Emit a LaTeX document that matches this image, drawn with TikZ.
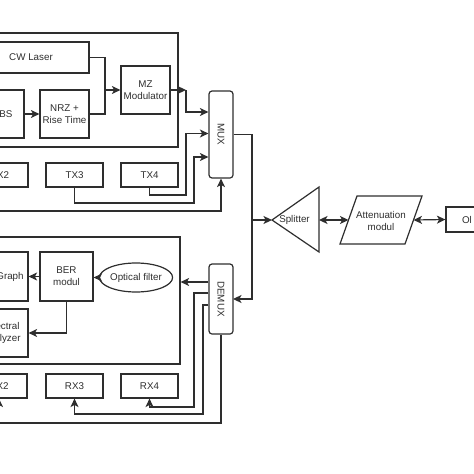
\documentclass[tikz,border=0pt]{standalone}
\usepackage{fontspec}
\setmainfont{Liberation Sans}
\usetikzlibrary{arrows.meta,calc,shapes.geometric}
\definecolor{ink}{HTML}{2E2E2E}
\tikzset{
  every node/.style={font=\fontsize{9.8}{11.8}\selectfont, text=ink},
  blk/.style={draw=ink, line width=1.2pt, inner sep=0pt, align=center},
  frame/.style={draw=ink, line width=1.2pt, inner sep=0pt},
  mbox/.style={draw=ink, line width=1.2pt, inner sep=0pt, rounded corners=3pt},
  wire/.style={draw=ink, line width=1.2pt},
  tip/.style={Stealth[length=8.5pt,width=8pt,inset=2.2pt]},
  arr/.style={wire, -{Stealth[length=8.5pt,width=8pt,inset=2.2pt]}},
  darr/.style={wire, {Stealth[length=8.5pt,width=8pt,inset=2.2pt]}-{Stealth[length=8.5pt,width=8pt,inset=2.2pt]}},
  lbl/.style={inner sep=0pt, align=center}
}
\begin{document}
\begin{tikzpicture}[x=1pt,y=-1pt]
\useasboundingbox (0,0) rectangle (474,474);
\clip (0,0) rectangle (474,474);
% ---------- transmitter side ----------
\node[frame, minimum width=218, minimum height=114] (txframe) at (69,90) {};
\node[blk, minimum width=116, minimum height=31] (cw) at (31,57.5) {CW Laser};
\node[blk, minimum width=50, minimum height=48] (prbs) at (-1,114) {PRBS};
\node[blk, minimum width=49, minimum height=48] (nrz) at (64.5,114) {NRZ +\\Rise Time};
\node[blk, minimum width=49, minimum height=48] (mz) at (145.5,90) {MZ\\Modulator};
\node[blk, minimum width=56, minimum height=24] (tx2) at (0,175) {TX2};
\node[blk, minimum width=57, minimum height=24] (tx3) at (74.5,175) {TX3};
\node[blk, minimum width=57, minimum height=24] (tx4) at (149.5,175) {TX4};
\node[mbox, minimum width=24, minimum height=87] (mux) at (221,134.5) {};
\node[lbl, rotate=-90] (muxt) at (mux) {MUX};
\coordinate (j1) at (105,90);
\coordinate (j2) at (186,90);
\coordinate (t4a) at (186,195);
\coordinate (t3a) at (194,203);
\coordinate (t2a) at (-10,211);
\draw[wire] (cw.east) -| (j1);
\draw[wire] (nrz.east) -| (j1);
\draw[arr] (j1) -- (mz.west);
\draw[arr] (prbs.east) -- (nrz.west);
\draw[arr] (mz.east) -- (j2);
\draw[arr] (j2) |- (mux.west |- 0,112);
\draw[arr] (tx4.south) |- (t4a) |- (mux.west |- 0,133.5);
\draw[arr] (tx3.south) |- (t3a) |- (mux.west |- 0,157);
\draw[arr] (t2a) -| (mux.south);
% ---------- central chain ----------
\coordinate (bus) at (252,220);
\coordinate (sptip) at (272,220);
\coordinate (spbase) at (319,220);
\draw[wire] (sptip) -- (319,187) -- (319,252) -- cycle;
\node[lbl] (split) at (294.5,220) {Splitter};
\node[lbl] (att) at (381,221) {Attenuation\\modul};
\draw[wire] (357,196) -- (422,196) -- (405,244) -- (340,244) -- cycle;
\coordinate (attL) at (348.5,220);
\coordinate (attR) at (413.5,220);
\node[blk, minimum height=25, text width=44, inner xsep=16pt, align=left] (of) at (484,219.5) {Ol};
\draw[arr] (mux.east) -| (bus) |- (0,299 -| 233,0);
\draw[arr] (bus) -- (sptip);
\draw[darr] (spbase) -- (attL);
\draw[darr] (attR) -- (of.west);
% ---------- receiver side ----------
\node[frame, minimum width=220, minimum height=127] (rxframe) at (70,300.5) {};
\node[draw=ink, line width=1.2pt, ellipse, minimum width=62, minimum height=29, inner sep=0pt] (filt) at (136,277.5) {Optical filter};
\node[blk, minimum width=53, minimum height=49] (ber) at (66.5,276.5) {BER\\modul};
\node[blk, minimum width=36, minimum height=49] (graph) at (10,276.5) {Graph};
\node[blk, minimum width=53, minimum height=48] (spec) at (1.5,333) {Spectral\\Analyzer};
\node[blk, minimum width=56, minimum height=24] (rx2) at (-1,386) {RX2};
\node[blk, minimum width=57, minimum height=24] (rx3) at (74.5,386) {RX3};
\node[blk, minimum width=57, minimum height=24] (rx4) at (149.5,386) {RX4};
\node[mbox, minimum width=24, minimum height=70] (demux) at (221,299) {};
\node[lbl, rotate=-90] (demuxt) at (demux) {DEMUX};
\coordinate (r4a) at (194,407);
\coordinate (r3a) at (203,414);
\coordinate (r1a) at (-10,423);
\coordinate (r2a) at (-10,416);
\draw[arr] (demux.west |- 0,282) -- (rxframe.east |- 0,282);
\draw[arr] (filt.west) -- (filt.west -| ber.east);
\draw[arr] (ber.west) -- (graph.east);
\draw[arr] (ber.south) |- (spec.east);
\draw[arr] (demux.west |- 0,293) -| (r4a) -| (rx4.south);
\draw[arr] (demux.west |- 0,305) -| (r3a) -| (rx3.south);
\draw[wire] (demux.south) |- (r1a);
\draw[arr] (r2a) -| (rx2.south);
\end{tikzpicture}
\end{document}
